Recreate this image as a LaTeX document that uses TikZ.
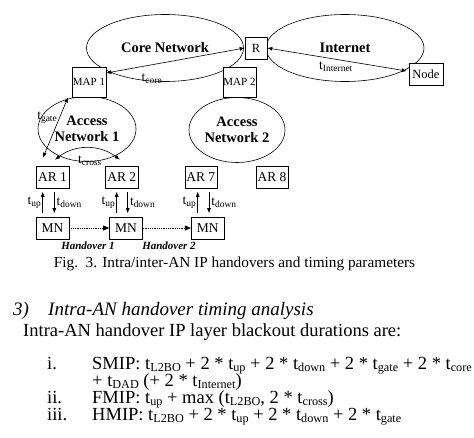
\documentclass[tikz,border=0pt]{standalone}
\usepackage{fontspec}
\usepackage{graphicx}
\setmainfont{Liberation Serif}
\usetikzlibrary{arrows.meta,shapes.geometric}
\newcommand{\idx}[1]{\raisebox{-0.28ex}{\scalebox{0.66}{#1}}}
\begin{document}
\begin{tikzpicture}[x=1pt,y=-1pt]
		\tikzstyle{every node}+=[inner sep=0pt]
		\tikzstyle{net}=[draw, ellipse, line width=0.6pt, align=center, font=\fontsize{14.5}{16}\selectfont\bfseries]
		\tikzstyle{box}=[draw, fill=white, line width=0.6pt, minimum width=33pt, minimum height=22pt, font=\fontsize{13.5}{15}\selectfont]
		\tikzstyle{tlbl}=[font=\fontsize{13.5}{15}\selectfont]
		\tikzstyle{link}=[line width=0.6pt, {Latex[length=5pt,width=4pt]}-{Latex[length=5pt,width=4pt]}]
		\tikzstyle{oneway}=[line width=0.6pt, -{Latex[length=5pt,width=4pt]}, shorten >=3.5pt, shorten <=3.5pt]
		\tikzstyle{move}=[line width=0.8pt, densely dotted, -{Triangle[length=6pt,width=5pt]}]
		\tikzstyle{txt}=[anchor=base west, font=\fontsize{18.5}{20}\selectfont]
		\useasboundingbox (0,0) rectangle (474,437);
		% clouds
		\node [net, minimum width=157pt, minimum height=67pt] (core) at (165,48) {Core Network};
		\node [net, minimum width=158pt, minimum height=67pt] (inet) at (345,48) {Internet};
		\node [net, minimum width=98pt, minimum height=65pt] (an1) at (87,129) {Access\\Network 1};
		\node [net, minimum width=96pt, minimum height=65pt] (an2) at (237,130) {Access\\Network 2};
		% boxes
		\node [box, minimum width=34pt, minimum height=30pt, font=\fontsize{11}{13}\selectfont] (map1) at (89,82) {MAP 1};
		\node [box, minimum width=33pt, minimum height=30pt, font=\fontsize{11}{13}\selectfont] (map2) at (239.5,82) {MAP 2};
		\node [box, minimum width=22pt, font=\fontsize{12.5}{14}\selectfont] (r) at (256,48) {R};
		\node [box, minimum width=34pt, font=\fontsize{12.5}{14}\selectfont] (cn) at (426,74) {Node};
		\node [box] (ar1) at (52.5,177) {AR 1};
		\node [box] (ar2) at (121.7,177) {AR 2};
		\node [box, minimum width=32pt] (ar7) at (200.8,177) {AR 7};
		\node [box, minimum width=32pt] (ar8) at (272,177) {AR 8};
		\node [box] (mn1) at (52.5,228) {MN};
		\node [box] (mn2) at (126,228) {MN};
		\node [box] (mn3) at (207.7,228) {MN};
		% timing arrows
		\draw [link] ([yshift=9pt]map1.east) -- (r.west);
		\draw [link] (r.east) -- ([yshift=3pt,xshift=-2pt]cn.west);
		\draw [link] ([xshift=-9.5pt,yshift=8pt]ar1.north) -- ([xshift=-21pt]map1.south);
		\draw [link] ([xshift=2.5pt,yshift=6pt]ar1.north) to [bend left=38] ([xshift=-2pt,yshift=6pt]ar2.north);
		\node [tlbl] (tcore) at (152,79) {t\textsubscript{core}};
		\node [tlbl] (tinet) at (336,67) {t\textsubscript{Internet}};
		\node [tlbl, anchor=east] (tgate) at (57.5,118) {t\textsubscript{gate}};
		\node [tlbl] (tcross) at (90,161) {t\textsubscript{cross}};
		% up and down
		\draw [oneway] ([xshift=-9.8pt]ar1.south |- mn1.north) -- ([xshift=-9.8pt]ar1.south) node [tlbl, anchor=east, midway, xshift=-1pt] (up1) {t\textsubscript{up}};
		\draw [oneway] ([xshift=1.8pt]ar1.south) -- ([xshift=1.8pt]ar1.south |- mn1.north) node [tlbl, anchor=west, midway, xshift=2pt] (dn1) {t\textsubscript{down}};
		\draw [oneway] ([xshift=-5pt]ar2.south |- mn2.north) -- ([xshift=-5pt]ar2.south) node [tlbl, anchor=east, midway, xshift=-1pt] (up2) {t\textsubscript{up}};
		\draw [oneway] ([xshift=6pt]ar2.south) -- ([xshift=6pt]ar2.south |- mn2.north) node [tlbl, anchor=west, midway, xshift=2pt] (dn2) {t\textsubscript{down}};
		\draw [oneway] ([xshift=-3.1pt]ar7.south |- mn3.north) -- ([xshift=-3.1pt]ar7.south) node [tlbl, anchor=east, midway, xshift=-1pt] (up7) {t\textsubscript{up}};
		\draw [oneway] ([xshift=8.2pt]ar7.south) -- ([xshift=8.2pt]ar7.south |- mn3.north) node [tlbl, anchor=west, midway, xshift=2pt] (dn7) {t\textsubscript{down}};
		% handovers
		\draw [move] (mn1.east) -- (mn2.west);
		\draw [move] (mn2.east) -- (mn3.west);
		\node [font=\fontsize{11}{13}\selectfont\bfseries\itshape] (ho1) at (88,246) {Handover 1};
		\node [font=\fontsize{11}{13}\selectfont\bfseries\itshape] (ho2) at (169,246) {Handover 2};
		% text below
		\node [anchor=base, font=\fontsize{15.3}{17}\selectfont] (cap) at (234.5,267.5) {Fig.~~3. Intra/inter-AN IP handovers and timing parameters};
		\node [txt, font=\fontsize{19}{21}\selectfont\itshape] (sec) at (13,315) {3)};
		\node [txt, font=\fontsize{19}{21}\selectfont\itshape] (sectitle) at (48,315) {Intra-AN handover timing analysis};
		\node [txt] (intro) at (23,336) {Intra-AN handover IP layer blackout durations are:};
		\node [txt] (n1) at (47,369) {i.};
		\node [txt] (smip) at (92,369) {SMIP: t\idx{L2BO} + 2 * t\idx{up} + 2 * t\idx{down} + 2 * t\idx{gate} + 2 * t\idx{core}};
		\node [txt] (smip2) at (92,386) {+ t\idx{DAD} (+ 2 * t\idx{Internet})};
		\node [txt] (n2) at (47,403) {ii.};
		\node [txt] (fmip) at (92,403) {FMIP: t\idx{up} + max (t\idx{L2BO}, 2 * t\idx{cross})};
		\node [txt] (n3) at (47,420) {iii.};
		\node [txt] (hmip) at (92,420) {HMIP: t\idx{L2BO} + 2 * t\idx{up} + 2 * t\idx{down} + 2 * t\idx{gate}};
	\end{tikzpicture}
\end{document}
